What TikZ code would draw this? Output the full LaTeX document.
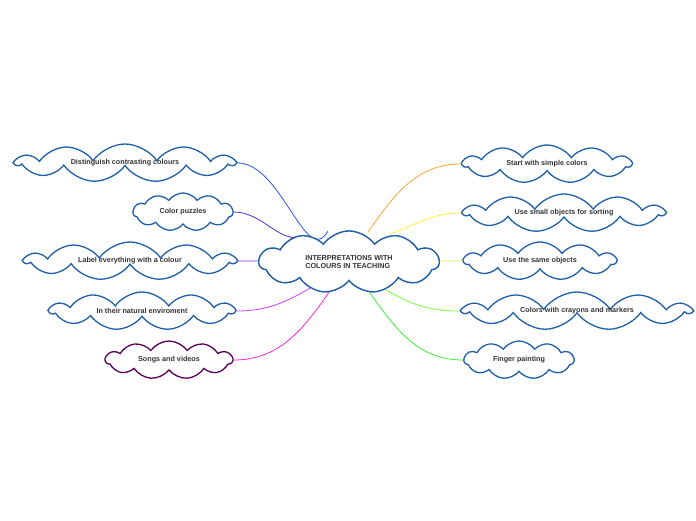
\documentclass[tikz,border=0pt]{standalone}
\usepackage{fontspec}
\setmainfont{Liberation Sans}
\usetikzlibrary{shapes.symbols}
\definecolor{cb}{HTML}{1F5FA8}
\definecolor{tx}{HTML}{333333}
\begin{document}
\begin{tikzpicture}[x=1pt,y=-1pt,
  cl/.style={cloud, cloud puffs=11, cloud puff arc=110, cloud ignores aspect, draw=cb, line width=1.3pt, fill=white, text=tx, font=\bfseries\fontsize{7.2}{8.5}\selectfont, inner sep=0pt, minimum height=38pt},
  ln/.style={line width=0.8pt}]
\useasboundingbox (0,0) rectangle (696,520);
\node[cl, minimum width=180pt, minimum height=62pt, align=left] (c) at (349,262) {INTERPRETATIONS WITH\\COLOURS IN TEACHING};
\node[cl, minimum width=218pt] (l1) at (125,163) {Distinguish contrasting colours};
\node[cl, minimum width=100pt] (l2) at (183,212) {Color puzzles};
\node[cl, minimum width=210pt] (l3) at (130,261) {Label everything with a colour};
\node[cl, minimum width=184pt] (l4) at (142,311) {In their natural enviroment};
\node[cl, minimum width=127pt, draw=violet!70!black] (l5) at (169,360) {Songs and videos};
\node[cl, minimum width=168pt] (r1) at (547,164) {Start with simple colors};
\node[cl, minimum width=200pt] (r2) at (564,213) {Use small objects for sorting};
\node[cl, minimum width=152pt] (r3) at (540,261) {Use the same objects};
\node[cl, minimum width=227pt] (r4) at (577,311) {Colors with crayons and markers};
\node[cl, minimum width=110pt] (r5) at (519,360) {Finger painting};
\coordinate (a1) at (328,231);
\coordinate (a2) at (308,236);
\coordinate (a3) at (262,261);
\coordinate (a4) at (312,287);
\coordinate (a5) at (332,288);
\coordinate (b1) at (368,232);
\coordinate (b2) at (390,234);
\coordinate (b3) at (436,261);
\coordinate (b4) at (386,290);
\coordinate (b5) at (368,290);
\begin{scope}[on background layer/.style={}]
\draw[ln, color={rgb,255:red,40;green,90;blue,255}] (l1.east) to[out=0,in=240] (a1);
\draw[ln, color={rgb,255:red,80;green,40;blue,230}] (l2.east) to[out=0,in=200] (a2);
\draw[ln, color={rgb,255:red,150;green,60;blue,255}] (l3.east) -- (a3);
\draw[ln, color={rgb,255:red,210;green,60;blue,255}] (l4.east) to[out=0,in=210] (a4);
\draw[ln, color={rgb,255:red,255;green,40;blue,200}] (l5.east) to[out=0,in=235] (a5);
\draw[ln, color={rgb,255:red,255;green,165;blue,50}] (r1.west) to[out=180,in=55] (b1);
\draw[ln, color={rgb,255:red,255;green,245;blue,60}] (r2.west) to[out=180,in=20] (b2);
\draw[ln, color={rgb,255:red,200;green,255;blue,60}] (r3.west) -- (b3);
\draw[ln, color={rgb,255:red,120;green,255;blue,60}] (r4.west) to[out=180,in=330] (b4);
\draw[ln, color={rgb,255:red,60;green,240;blue,60}] (r5.west) to[out=180,in=305] (b5);
\end{scope}
\node[cl, minimum width=180pt, minimum height=62pt, align=left] at (349,262) {INTERPRETATIONS WITH\\COLOURS IN TEACHING};
\end{tikzpicture}
\end{document}
